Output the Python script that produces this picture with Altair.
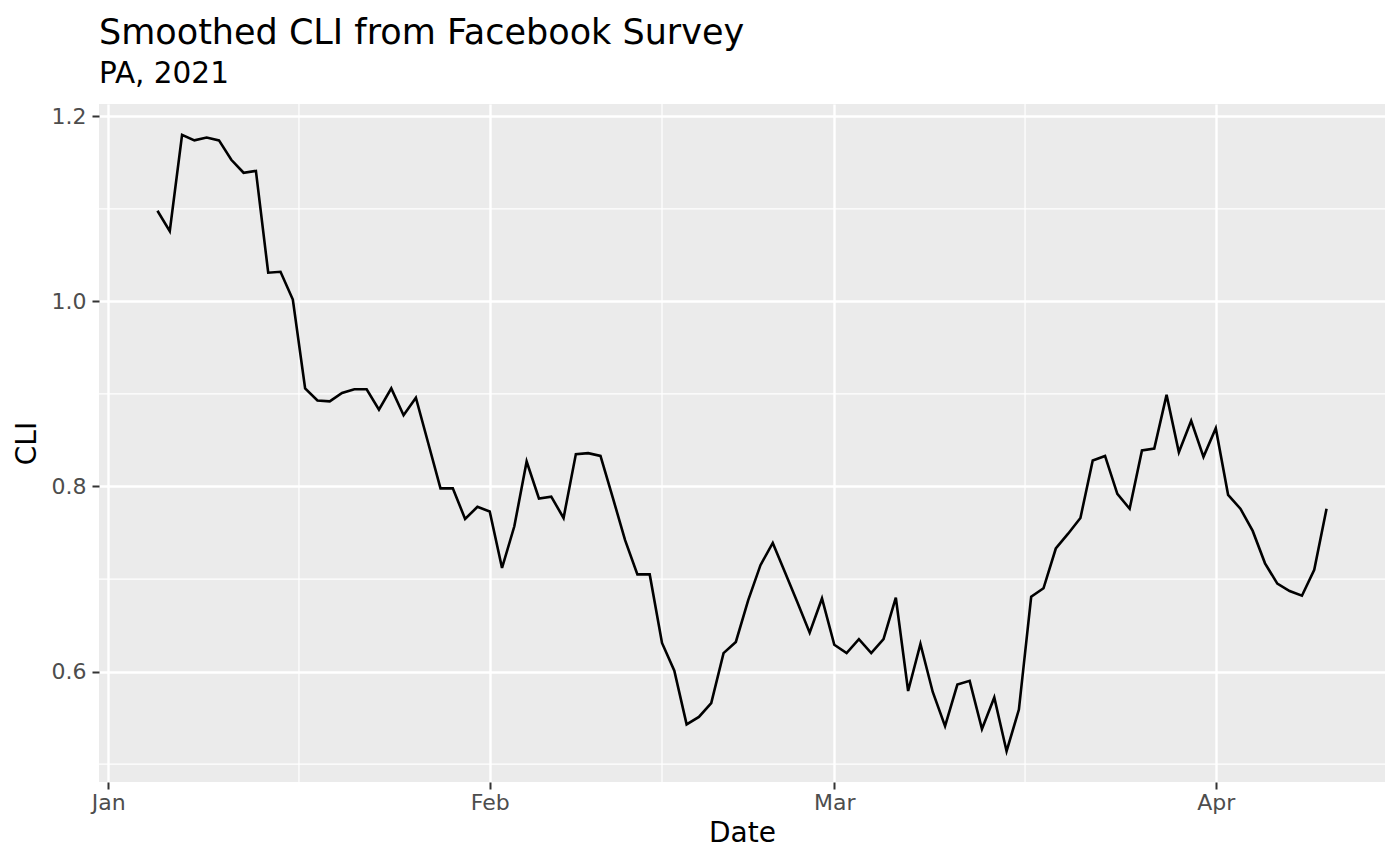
import altair as alt
import pandas as pd

# ---- data ----
start_date = "2021-01-05"
cli_jan = [1.098, 1.076, 1.180, 1.174, 1.177, 1.174, 1.153, 1.139, 1.141, 1.031,
           1.032, 1.002, 0.906, 0.893, 0.892, 0.901, 0.905, 0.905, 0.883, 0.906,
           0.877, 0.896, 0.847, 0.798, 0.798, 0.765, 0.778]
cli_feb = [0.773, 0.712, 0.757, 0.827, 0.787, 0.789, 0.766, 0.835, 0.836, 0.833,
           0.788, 0.742, 0.705, 0.705, 0.631, 0.601, 0.543, 0.551, 0.566, 0.620,
           0.632, 0.677, 0.715, 0.739, 0.707, 0.675, 0.642, 0.679]
cli_mar = [0.629, 0.620, 0.635, 0.620, 0.635, 0.680, 0.579, 0.630, 0.578, 0.541,
           0.586, 0.590, 0.538, 0.572, 0.514, 0.559, 0.681, 0.690, 0.733, 0.749,
           0.766, 0.828, 0.833, 0.792, 0.776, 0.839, 0.841, 0.899, 0.837, 0.871,
           0.832]
cli_apr = [0.863, 0.791, 0.776, 0.752, 0.717, 0.695, 0.687, 0.682, 0.710, 0.776]

minor_dates = ["2021-01-16T12:00:00", "2021-02-15T00:00:00", "2021-03-16T12:00:00"]
y_major = [0.6, 0.8, 1.0, 1.2]
y_minor = [0.5, 0.7, 0.9, 1.1]
month_ticks = [1, 2, 3, 4]

values = cli_jan + cli_feb + cli_mar + cli_apr
dates = pd.date_range(start_date, periods=len(values), freq="D")
df = pd.DataFrame({"date": dates, "cli": values})
df_xminor = pd.DataFrame({"d": minor_dates})
df_yminor = pd.DataFrame({"v": y_minor})

FONT = "DejaVu Sans"

x_scale = alt.Scale(domain=[alt.DateTime(year=2020, month=12, date=31, hours=6),
                            alt.DateTime(year=2021, month=4, date=14, hours=18)])
y_scale = alt.Scale(domain=[0.4807, 1.2133], nice=False, zero=False)

x_axis = alt.Axis(values=[alt.DateTime(year=2021, month=m, date=1) for m in month_ticks],
                  format="%b", title="Date")
y_axis = alt.Axis(values=y_major, format=".1f", title="CLI")

x_minor = alt.Chart(df_xminor).mark_rule(color="white", strokeWidth=1.2).encode(
    x=alt.X("d:T", scale=x_scale, axis=x_axis)
)
y_minor_layer = alt.Chart(df_yminor).mark_rule(color="white", strokeWidth=1.2).encode(
    y=alt.Y("v:Q", scale=y_scale, axis=y_axis)
)

line = alt.Chart(df).mark_line(color="black", strokeWidth=2.6).encode(
    x=alt.X("date:T", scale=x_scale, axis=x_axis),
    y=alt.Y("cli:Q", scale=y_scale, axis=y_axis),
)

chart = alt.layer(x_minor, y_minor_layer, line).properties(
    width=1286,
    height=678,
    autosize=alt.AutoSizeParams(type="none"),
    padding={"left": 91, "top": 96, "right": 7, "bottom": 70},
    title=alt.TitleParams(
        text="Smoothed CLI from Facebook Survey",
        subtitle="PA, 2021",
        anchor="start", frame="group",
        font=FONT, subtitleFont=FONT,
        fontSize=35, subtitleFontSize=29.5,
        fontWeight="normal", color="black", subtitleColor="black",
        offset=15, subtitlePadding=9,
    ),
).configure_view(
    fill="#EBEBEB", strokeWidth=0
).configure_axis(
    domain=False,
    grid=True, gridColor="white", gridWidth=2.4,
    ticks=True, tickColor="#333333", tickSize=7, tickWidth=2,
    labelFont=FONT, labelFontSize=22, labelColor="#4D4D4D",
    titleFont=FONT, titleFontSize=28, titleColor="black", titleFontWeight="normal",
).configure_axisX(
    labelPadding=3, titlePadding=6
).configure_axisY(
    labelPadding=6, titlePadding=10
)

chart.save("out.html", embed_options={"renderer": "svg", "actions": False})
